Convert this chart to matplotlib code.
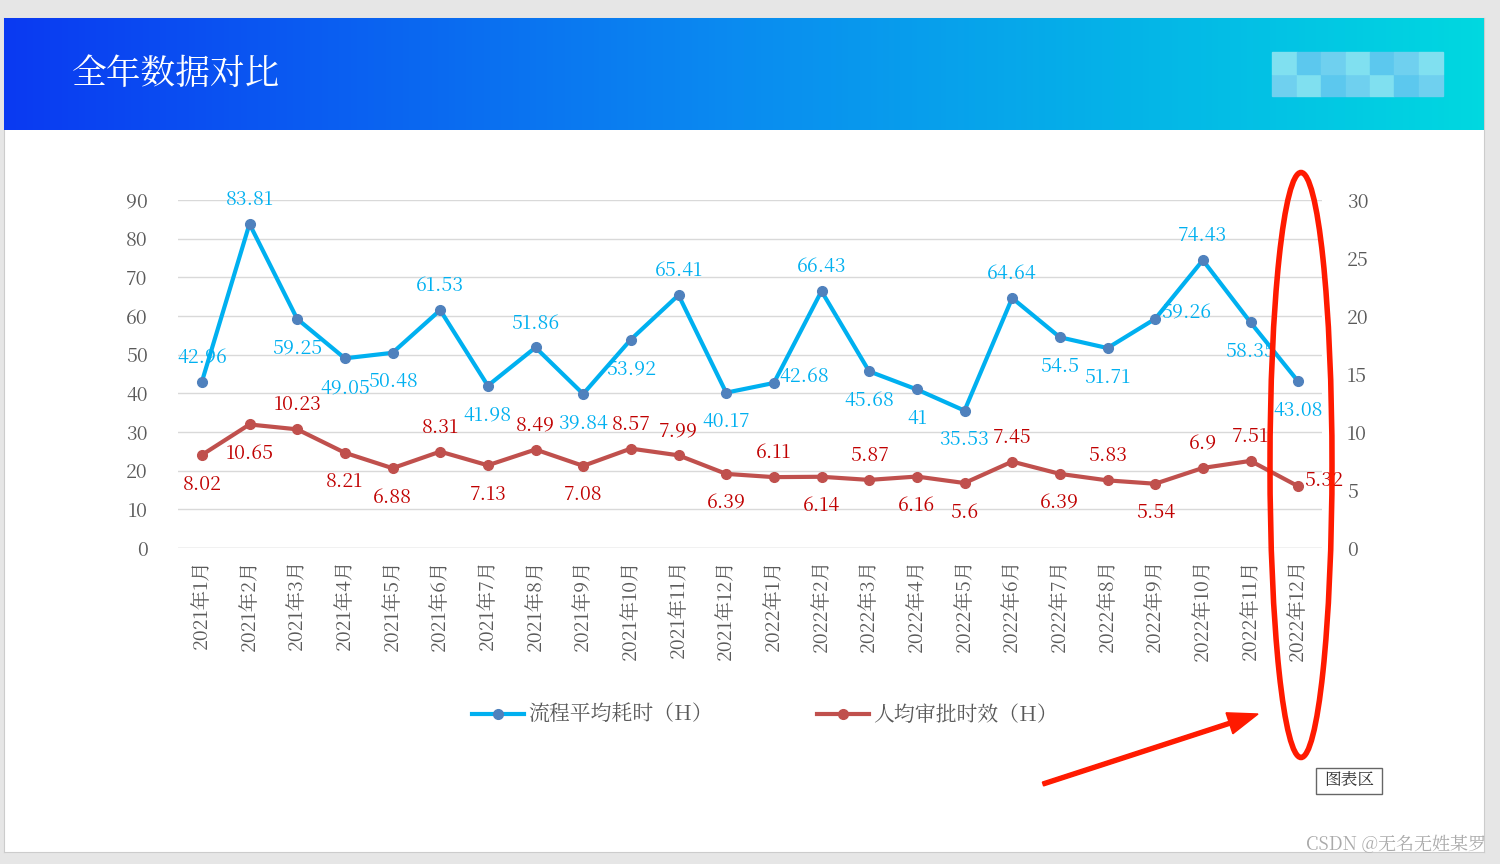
import matplotlib
matplotlib.use("Agg")
import matplotlib.pyplot as plt
import matplotlib.font_manager as fm
import numpy as np
from matplotlib.colors import LinearSegmentedColormap
from matplotlib.patches import Ellipse, Rectangle, FancyArrow
from matplotlib.lines import Line2D

cjk = None
for f in fm.findSystemFonts():
    if "CJK" in f or "cjk" in f.lower():
        try:
            fm.fontManager.addfont(f)
            name = fm.FontProperties(fname=f).get_name()
            if cjk is None or "SC" in name:
                cjk = name
        except Exception:
            pass
plt.rcParams["font.family"] = [cjk or "Noto Sans CJK SC", "DejaVu Sans"]

months = [f"2021年{i}月" for i in range(1, 13)] + [f"2022年{i}月" for i in range(1, 13)]
flow_avg = [42.96, 83.81, 59.25, 49.05, 50.48, 61.53, 41.98, 51.86, 39.84, 53.92, 65.41, 40.17,
            42.68, 66.43, 45.68, 41, 35.53, 64.64, 54.5, 51.71, 59.26, 74.43, 58.35, 43.08]
per_person = [8.02, 10.65, 10.23, 8.21, 6.88, 8.31, 7.13, 8.49, 7.08, 8.57, 7.99, 6.39,
              6.11, 6.14, 5.87, 6.16, 5.6, 7.45, 6.39, 5.83, 5.54, 6.9, 7.51, 5.32]
series_names = ["流程平均耗时（H）", "人均审批时效（H）"]
title = "全年数据对比"

blue_pos = ["a","a","b","b","b","a","b","a","b","b","a","b","r","a","b","b","b","a","b","b","r","a","b","b"]
red_pos = ["b","b","a","b","b","a","b","a","b","a","a","b","a","b","a","b","b","a","b","a","b","a","a","r"]

fig = plt.figure(figsize=(15, 8.64), dpi=100)
fig.patch.set_facecolor("#e6e6e6")
bg = fig.add_axes([4/1500, 12/864, 1480/1500, 834/864])
bg.set_facecolor("white"); bg.set_xticks([]); bg.set_yticks([])
for s in bg.spines.values(): s.set_color("#cccccc")

hdr = fig.add_axes([4/1500, 1-130/864, 1480/1500, 112/864])
cmap = LinearSegmentedColormap.from_list("g", ["#0a3af2", "#0a8cf0", "#00d8e0"])
hdr.imshow(np.linspace(0, 1, 256)[None, :], aspect="auto", cmap=cmap, extent=[0, 1, 0, 1])
hdr.axis("off")
hdr.text(0.046, 0.5, title, color="white", fontsize=25, va="center", ha="left", transform=hdr.transAxes)
for i in range(7):
    for j in range(2):
        hdr.add_patch(Rectangle((0.857 + i*0.0165, 0.3 + j*0.2), 0.0165, 0.2,
                                color=["#6fd0ef", "#80e0f0", "#5cc8ee"][(i+j) % 3], transform=hdr.transAxes))

ax = fig.add_axes([178/1500, 1-548/864, 1144/1500, 348/864])
ax2 = ax.twinx()
x = np.arange(len(months))
blue = "#00b0f0"; red = "#c0504d"
ax.plot(x, flow_avg, color=blue, lw=3, marker="o", ms=7, mfc="#4f81bd", mec="#4f81bd", zorder=3)
ax2.plot(x, per_person, color=red, lw=3, marker="o", ms=7, mfc=red, mec=red, zorder=3)
ax.set_ylim(0, 90); ax2.set_ylim(0, 30)
ax.set_xlim(-0.5, 23.5)
ax.set_yticks(range(0, 91, 10)); ax2.set_yticks(range(0, 31, 5))
ax.set_xticks(x); ax.set_xticklabels(months, rotation=90, fontsize=14, color="#595959")
ax.tick_params(axis="y", labelsize=14, colors="#595959", length=0, pad=22)
ax2.tick_params(axis="y", labelsize=14, colors="#595959", length=0, pad=18)
ax.tick_params(axis="x", length=0, pad=8)
ax.grid(axis="y", color="#d9d9d9", lw=1)
for a in (ax, ax2):
    for s in a.spines.values(): s.set_visible(False)
ax.axhline(0, color="#d9d9d9", lw=1)

def lab(axis, xs, ys, pos, color):
    for xi, yi, p in zip(xs, ys, pos):
        off = {"a": (0, 10, "center", "bottom"), "b": (0, -14, "center", "top"), "r": (4, 4, "left", "center")}[p]
        axis.annotate(f"{yi:g}", (xi, yi), xytext=off[:2], textcoords="offset points",
                      ha=off[2], va=off[3], color=color, fontsize=14, zorder=5)
lab(ax, x, flow_avg, blue_pos, "#00b0f0")
lab(ax2, x, per_person, red_pos, "#c00000")

handles = [Line2D([], [], color=blue, lw=3, marker="o", ms=7, mfc="#4f81bd", mec="#4f81bd"),
           Line2D([], [], color=red, lw=3, marker="o", ms=7, mfc=red, mec=red)]
fig.legend(handles, series_names, loc="center", bbox_to_anchor=(0.51, 1-715/864), ncol=2,
           frameon=False, fontsize=15, labelcolor="#595959", columnspacing=5, handlelength=2.5,
           handletextpad=0.2)

ov = fig.add_axes([0, 0, 1, 1]); ov.set_xlim(0, 1500); ov.set_ylim(864, 0); ov.axis("off")
ov.add_patch(Ellipse((1301, 465), 62, 585, fill=False, ec="#ff1a00", lw=4))
ov.add_patch(FancyArrow(1043, 784, 215, -70, width=4, head_width=22, head_length=30,
                        color="#ff1a00", length_includes_head=True))
ov.add_patch(Rectangle((1316, 768), 66, 26, fc="white", ec="#666666", lw=1))
ov.text(1349, 781, "图表区", ha="center", va="center", fontsize=12, color="#333333")
ov.text(1486, 845, "CSDN @无名无姓某罗", ha="right", va="center", fontsize=13, color="#aaaaaa")

fig.savefig("out.png", dpi=100, facecolor=fig.get_facecolor())
